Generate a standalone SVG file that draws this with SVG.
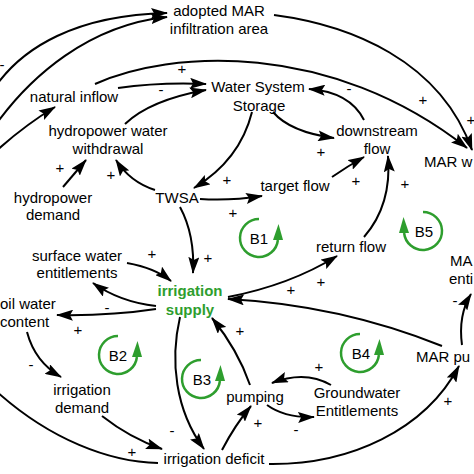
<svg xmlns="http://www.w3.org/2000/svg" xmlns:xlink="http://www.w3.org/1999/xlink" width="474" height="474" viewBox="0 0 474 474">
<style>
text{font-family:"Liberation Sans",Arial,sans-serif;font-size:15px;fill:#000;text-anchor:middle}
.st{text-anchor:start}
.gr{fill:#2e9e2e;font-weight:bold}
.c{fill:none;stroke:#000;stroke-width:2;marker-end:url(#ah)}
.n{fill:none;stroke:#000;stroke-width:2}
.sg{font-size:15px}
</style>
<defs>
<marker id="ah" viewBox="0 0 17 11" refX="16" refY="5.5" markerWidth="17" markerHeight="11" markerUnits="userSpaceOnUse" orient="auto">
<path d="M0,0 L17,5.5 L0,11 L3,5.5 z" fill="#000"/>
</marker>
<g id="loopR">
<path d="M0,-19 A19,19 0 1 0 18.9,2" fill="none" stroke="#2e9e2e" stroke-width="2.5"/>
<polygon points="14,2 24,2 19.5,-14" fill="#2e9e2e"/>
</g>
</defs>
<rect width="474" height="474" fill="#fff"/>

<g id="connectors">
<path class="c" d="M-10,95 C20,45 80,15 167,13"/>
<path class="c" d="M-8,130 C30,75 90,25 167,17"/>
<path class="c" d="M-5,152 Q25,125 55,107"/>
<path class="c" d="M118,88 Q160,82 206,84"/>
<path class="c" d="M125,124 Q150,100 206,90"/>
<path class="c" d="M95,84 C170,50 330,40 467,148"/>
<path class="c" d="M274,15 C350,25 440,60 472,150"/>
<path class="c" d="M273,112 Q290,132 334,138"/>
<path class="c" d="M364,120 Q350,92 309,89"/>
<path class="c" d="M252,112 Q240,160 194,188"/>
<path class="c" d="M155,190 Q130,182 116,160"/>
<path class="c" d="M63,187 L86,160"/>
<path class="c" d="M200,199 Q230,201 262,196"/>
<path class="c" d="M332,177 Q348,166 364,157"/>
<path class="c" d="M364,237 Q392,205 388,156"/>
<path class="c" d="M180,207 Q195,235 193,273"/>
<path class="c" d="M127,263 Q155,268 171,281"/>
<path class="c" d="M156,306 Q120,302 93,283"/>
<path class="c" d="M156,309 Q110,316 57,315"/>
<path class="c" d="M27,332 Q35,362 61,377"/>
<path class="c" d="M102,416 Q130,438 162,449"/>
<path class="n" d="M158,463 C110,462 50,440 -5,390"/>
<path class="c" d="M180,317 C170,360 175,410 204,449"/>
<path class="c" d="M222,450 Q235,425 251,406"/>
<path class="c" d="M250,385 Q238,350 212,318"/>
<path class="c" d="M331,385 Q305,370 272,383"/>
<path class="c" d="M267,405 Q285,418 314,417"/>
<path class="c" d="M269,464 C350,465 425,430 459,366"/>
<path class="c" d="M442,346 Q340,305 228,299"/>
<path class="c" d="M228,297 Q290,285 337,256"/>
<path class="c" d="M462,345 Q458,315 471,294"/>
</g>

<g id="signs">
<text class="sg" x="2" y="70">-</text>
<text class="sg" x="182" y="74">+</text>
<text class="sg" x="161" y="95">-</text>
<text class="sg" x="423" y="105">+</text>
<text class="sg" x="471" y="125">+</text>
<text class="sg" x="349" y="94">-</text>
<text class="sg" x="321" y="157">+</text>
<text class="sg" x="227" y="185">+</text>
<text class="sg" x="111" y="180">+</text>
<text class="sg" x="60" y="173">+</text>
<text class="sg" x="356" y="186">+</text>
<text class="sg" x="405" y="189">+</text>
<text class="sg" x="233" y="218">+</text>
<text class="sg" x="152" y="259">+</text>
<text class="sg" x="208" y="263">+</text>
<text class="sg" x="107" y="313">-</text>
<text class="sg" x="78" y="335">+</text>
<text class="sg" x="31" y="370">-</text>
<text class="sg" x="321" y="287">+</text>
<text class="sg" x="291" y="295">+</text>
<text class="sg" x="240" y="336">+</text>
<text class="sg" x="172" y="436">-</text>
<text class="sg" x="132" y="457">+</text>
<text class="sg" x="258" y="428">+</text>
<text class="sg" x="319" y="372">+</text>
<text class="sg" x="296" y="435">-</text>
<text class="sg" x="448" y="406">+</text>
<text class="sg" x="455" y="306">-</text>
</g>

<g id="loops">
<g id="B1"><use xlink:href="#loopR" href="#loopR" transform="translate(259,238)"/><text x="259" y="244">B1</text></g>
<g id="B2"><use xlink:href="#loopR" href="#loopR" transform="translate(118,355)"/><text x="118" y="361">B2</text></g>
<g id="B3"><use xlink:href="#loopR" href="#loopR" transform="translate(201,379)"/><text x="202" y="385">B3</text></g>
<g id="B4"><use xlink:href="#loopR" href="#loopR" transform="translate(360,353)"/><text x="361" y="359">B4</text></g>
<g id="B5"><use xlink:href="#loopR" href="#loopR" transform="translate(423,231) scale(-1,1)"/><text x="424" y="237">B5</text></g>
</g>

<g id="adopted-mar"><text x="219" y="16">adopted MAR</text><text x="219" y="34">infiltration area</text></g>
<g id="natural-inflow"><text x="74" y="102">natural inflow</text></g>
<g id="water-system-storage"><text x="258" y="92">Water System</text><text x="259" y="111">Storage</text></g>
<g id="hydropower-withdrawal"><text x="108" y="136">hydropower water</text><text x="108" y="154">withdrawal</text></g>
<g id="hydropower-demand"><text x="53" y="203">hydropower</text><text x="53" y="220">demand</text></g>
<g id="twsa"><text x="177" y="203">TWSA</text></g>
<g id="target-flow"><text x="295" y="191">target flow</text></g>
<g id="downstream-flow"><text x="377" y="136">downstream</text><text x="377" y="154">flow</text></g>
<g id="mar-water"><text class="st" x="424" y="167">MAR w</text></g>
<g id="surface-water"><text x="77" y="261">surface water</text><text x="77" y="278">entitlements</text></g>
<g id="irrigation-supply"><text class="gr" x="190" y="296">irrigation</text><text class="gr" x="190" y="315">supply</text></g>
<g id="soil-water"><text class="st" x="0" y="309">oil water</text><text class="st" x="0" y="327">content</text></g>
<g id="return-flow"><text x="351" y="252">return flow</text></g>
<g id="irrigation-demand"><text x="82" y="395">irrigation</text><text x="82" y="413">demand</text></g>
<g id="irrigation-deficit"><text x="214" y="464">irrigation deficit</text></g>
<g id="pumping"><text x="255" y="402">pumping</text></g>
<g id="groundwater-entitlements"><text x="357" y="398">Groundwater</text><text x="357" y="416">Entitlements</text></g>
<g id="mar-pumping"><text class="st" x="416" y="362">MAR pu</text></g>
<g id="mar-entitlements"><text class="st" x="450" y="266">MA</text><text class="st" x="449" y="284">enti</text></g>
</svg>
